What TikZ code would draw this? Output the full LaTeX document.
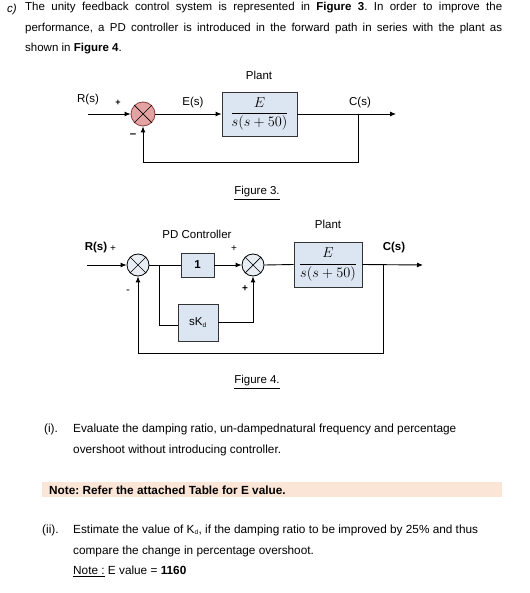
\documentclass[tikz,border=0pt]{standalone}
\usepackage{fontspec}
\setmainfont{Liberation Sans}
\usetikzlibrary{arrows.meta}
\frenchspacing
\definecolor{boxblue}{HTML}{DCE6F2}
\definecolor{sumpink}{HTML}{E3A3A3}
\definecolor{sumred}{HTML}{8C3B3B}
\definecolor{sumgrey}{HTML}{E9EEF5}
\definecolor{notebg}{HTML}{FBE5D6}
\tikzset{
  blk/.style={draw=black!80, fill=boxblue, line width=0.9pt, inner sep=0pt},
  sumA/.style={circle, draw=sumred, fill=sumpink, line width=0.8pt, minimum size=24pt, inner sep=0pt},
  sumB/.style={circle, draw=black, fill=sumgrey, line width=0.8pt, minimum size=22pt, inner sep=0pt},
  wire/.style={line width=0.9pt},
  arr/.style={line width=0.9pt, -{Latex[length=6pt,width=5pt]}},
  lbl/.style={font=\fontsize{11.5}{13}\selectfont, inner sep=0pt},
  txt/.style={font=\fontsize{11.8}{13}\selectfont, inner sep=0pt, anchor=west},
  frac/.style={font=\fontsize{14}{16}\selectfont},
}
\newcommand{\crossin}[1]{\draw[line width=0.7pt] (#1.north west) -- (#1.south east) (#1.north east) -- (#1.south west);}
\begin{document}
\begin{tikzpicture}[x=1pt,y=-1pt]
\useasboundingbox (0,0) rectangle (529,593);
\fill[white] (0,0) rectangle (529,593);
% ---------- top paragraph ----------
\node[txt, font=\fontsize{11.5}{13}\selectfont] (cl) at (7,10) {\textit{c)}};
\node[anchor=north west, inner sep=0pt, text width=477pt, align=justify, font=\fontsize{11.5}{20.5}\selectfont] (par) at (25,2)
 {The unity feedback control system is represented in \textbf{Figure 3}. In order to improve the\linebreak
 performance, a PD controller is introduced in the forward path in series with the plant as\linebreak
 shown in \textbf{Figure 4}.};
% ---------- Figure 3 ----------
\node[sumA] (s1) at (143,114) {};
\crossin{s1}
\node[blk, frac, minimum width=75pt, minimum height=44pt] (p1) at (259.5,114) {$\displaystyle\frac{E}{s(s+50)}$};
\coordinate (in1) at (88,114);
\coordinate (out1) at (396,114);
\coordinate (br1) at (358,114);
\coordinate (fb1) at (358,162);
\coordinate (fb1b) at (143,162);
\draw[arr] (in1) -- (s1.west);
\draw[arr] (s1.east) -- (p1.west);
\draw[arr] (p1.east) -- (out1);
\draw[arr] (br1) -- (fb1) -- (fb1b) -- (s1.south);
\node[lbl] (r1) at (88,100) {R(s)};
\node[lbl, font=\bfseries\fontsize{9}{10}\selectfont] (pl1) at (118,103) {+};
\node[lbl, font=\bfseries\fontsize{11.5}{13}\selectfont] (mi1) at (133,136) {\textendash};
\node[lbl] (e1) at (193,103) {E(s)};
\node[lbl] (c1) at (360,103) {C(s)};
\node[lbl] (plt1) at (259,75) {Plant};
\node[lbl] (fig3) at (257,193) {\underline{Figure 3.}};
% ---------- Figure 4 ----------
\node[sumB] (s2) at (138,265) {};
\crossin{s2}
\node[sumB] (s3) at (253,265) {};
\crossin{s3}
\node[blk, minimum width=33pt, minimum height=24pt, font=\bfseries\fontsize{11.5}{13}\selectfont] (k1) at (197.5,265) {1};
\node[blk, minimum width=40pt, minimum height=37pt, font=\fontsize{11.5}{13}\selectfont] (kd) at (198,322.5) {sK\textsubscript{\fontsize{6.5}{7}\selectfont d}};
\node[blk, frac, minimum width=68pt, minimum height=45pt] (p2) at (328,264.5) {$\displaystyle\frac{E}{s(s+50)}$};
\coordinate (in2) at (87,265);
\coordinate (out2) at (423,265);
\coordinate (br2) at (159,265);
\coordinate (br2b) at (159,325);
\coordinate (kdo) at (253,322);
\coordinate (br3) at (383,265);
\coordinate (fb2) at (383,353);
\coordinate (fb2b) at (138,353);
\draw[arr] (in2) -- (s2.west);
\draw[wire] (s2.east) -- (k1.west);
\draw[wire] (br2) -- (br2b) -- (br2b -| kd.west);
\draw[arr] (k1.east) -- (s3.west);
\draw[arr] (kd.east |- kdo) -- (kdo) -- (s3.south);
\draw[wire] (s3.east) -- (p2.west);
\draw[arr] (p2.east) -- (out2);
\draw[arr] (br3) -- (fb2) -- (fb2b) -- (s2.south);
\node[lbl, font=\bfseries\fontsize{11.5}{13}\selectfont] (r2) at (96,248) {R(s)};
\node[lbl, font=\fontsize{10}{11}\selectfont] (pl2) at (113,249) {+};
\node[lbl] (mi2) at (128,292) {-};
\node[lbl, font=\fontsize{10}{11}\selectfont] (pl3) at (234,249) {+};
\node[lbl, font=\bfseries\fontsize{10}{11}\selectfont] (pl4) at (245,289) {+};
\node[lbl, font=\bfseries\fontsize{11.5}{13}\selectfont] (c2) at (394,248) {C(s)};
\node[lbl] (pdc) at (197,234) {PD Controller};
\node[lbl] (plt2) at (328,224) {Plant};
\node[lbl] (fig4) at (257,382) {\underline{Figure 4.}};
% ---------- questions ----------
\node[txt] (q1) at (44,429) {(i).};
\node[txt] (q1a) at (73,429) {Evaluate the damping ratio, un-dampednatural frequency and percentage};
\node[txt] (q1b) at (73,450) {overshoot without introducing controller.};
\fill[notebg] (42,482) rectangle (502,497);
\node[txt, font=\bfseries\fontsize{11.8}{13}\selectfont] (note1) at (49,490) {Note: Refer the attached Table for E value.};
\node[txt] (q2) at (42,530) {(ii).};
\node[txt] (q2a) at (73,530) {Estimate the value of K\textsubscript{\fontsize{6.5}{7}\selectfont d}, if the damping ratio to be improved by 25\% and thus};
\node[txt] (q2b) at (73,551) {compare the change in percentage overshoot.};
\node[txt] (q2c) at (73,571) {\underline{Note :} E value = \textbf{1160}};
\end{tikzpicture}
\end{document}
